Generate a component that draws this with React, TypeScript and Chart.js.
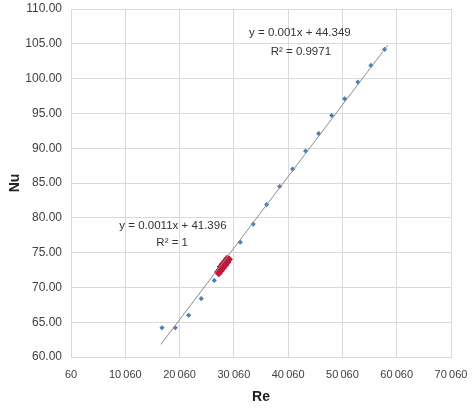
import React, { useEffect, useRef } from "react";
import { Chart, registerables } from "chart.js";

Chart.register(...registerables);

// Blue series (Re, Nu)
const blueRe = [16820, 19270, 21740, 24050, 26450, 31240, 33630, 36100, 38490, 40890, 43280, 45680, 48070, 50470, 52910, 55310, 57830];
const blueNu = [64.2, 64.2, 66.0, 68.4, 71.0, 76.5, 79.1, 81.9, 84.5, 87.0, 89.6, 92.1, 94.7, 97.1, 99.5, 101.9, 104.2];

// Red cluster series (Re, Nu)
const redRe = [27100, 27250, 27400, 27550, 27700, 27850, 28000, 28150, 28300, 28450, 28600, 28750, 28900, 29050, 29200, 27300, 27700, 28100, 28500, 28900, 27600, 28000, 28400, 28800];
const redNu = [72.2, 72.3, 72.45, 72.55, 72.7, 72.85, 73.0, 73.1, 73.25, 73.4, 73.55, 73.7, 73.8, 73.95, 74.05, 72.0, 72.4, 72.8, 73.2, 73.6, 72.95, 73.35, 73.75, 74.15];

// Trendline endpoints
const trendRe = [16600, 58400];
const trendNu = [61.8, 104.8];

// Tick labels
const xTickLabels = ["60", "10\u2009060", "20\u2009060", "30\u2009060", "40\u2009060", "50\u2009060", "60\u2009060", "70\u2009060"];
const yTickLabels = ["60.00", "65.00", "70.00", "75.00", "80.00", "85.00", "90.00", "95.00", "100.00", "105.00", "110.00"];

// Annotation texts with anchor in data units
const noteTexts = ["y = 0.001x + 44.349", "R\u00B2 = 0.9971", "y = 0.0011x + 41.396", "R\u00B2 = 1"];
const noteRe = [42230, 42400, 18840, 18700];
const noteNu = [106.55, 103.8, 78.8, 76.4];

const FONT = "'Liberation Sans', Arial, sans-serif";

const notesPlugin = {
  id: "notes",
  afterDatasetsDraw(chart: any) {
    const { ctx, scales } = chart;
    ctx.save();
    ctx.font = `11.5px ${FONT}`;
    ctx.fillStyle = "#333333";
    ctx.textAlign = "center";
    ctx.textBaseline = "middle";
    noteTexts.forEach((t, i) => {
      ctx.fillText(t, scales.x.getPixelForValue(noteRe[i]), scales.y.getPixelForValue(noteNu[i]));
    });
    ctx.restore();
  },
};

const zeroPad = (s: any) => {
  s.paddingTop = 0;
  s.paddingBottom = 0;
  s.paddingLeft = 0;
  s.paddingRight = 0;
};

export default function App() {
  const ref = useRef<HTMLCanvasElement>(null);
  useEffect(() => {
    document.body.style.margin = "0";
    const chart = new Chart(ref.current!, {
      type: "scatter",
      data: {
        datasets: [
          {
            type: "line",
            data: trendRe.map((x, i) => ({ x, y: trendNu[i] })),
            borderColor: "#8c8c8c",
            borderWidth: 1,
            pointRadius: 0,
            fill: false,
          } as any,
          {
            data: blueRe.map((x, i) => ({ x, y: blueNu[i] })),
            pointStyle: "rectRot",
            pointRadius: 2.6,
            backgroundColor: "#4a7ebb",
            borderColor: "#4a7ebb",
            borderWidth: 0,
          },
          {
            data: redRe.map((x, i) => ({ x, y: redNu[i] })),
            pointStyle: "rectRot",
            pointRadius: 3.8,
            backgroundColor: "#c01a3a",
            borderColor: "#c01a3a",
            borderWidth: 0,
          },
        ],
      },
      options: {
        animation: false,
        responsive: false,
        maintainAspectRatio: false,
        layout: { padding: { top: 9, right: 23, bottom: 0, left: 0 } },
        plugins: { legend: { display: false }, tooltip: { enabled: false } },
        scales: {
          x: {
            type: "linear",
            min: 60,
            max: 70060,
            afterFit: (s: any) => { s.height = 58; zeroPad(s); },
            grid: { color: "#d9d9d9", drawTicks: false },
            border: { color: "#d9d9d9" },
            ticks: {
              stepSize: 10000,
              padding: 11,
              color: "#404040",
              font: { family: FONT, size: 11 },
              callback: (v: any) => xTickLabels[Math.round((Number(v) - 60) / 10000)],
            },
            title: {
              display: true,
              text: "Re",
              color: "#222",
              font: { family: FONT, size: 14, weight: "bold" },
              padding: { top: 0, bottom: 9 },
            },
          },
          y: {
            min: 60,
            max: 110,
            afterFit: (s: any) => { s.width = 71; zeroPad(s); },
            grid: { color: "#d9d9d9", drawTicks: false },
            border: { color: "#d9d9d9" },
            ticks: {
              stepSize: 5,
              padding: 9,
              color: "#404040",
              font: { family: FONT, size: 12 },
              callback: (v: any) => yTickLabels[Math.round((Number(v) - 60) / 5)],
            },
            title: {
              display: true,
              text: "Nu",
              color: "#222",
              font: { family: FONT, size: 14, weight: "bold" },
              padding: { top: 7, bottom: 0 },
            },
          },
        },
      },
      plugins: [notesPlugin],
    });
    return () => chart.destroy();
  }, []);
  return (
    <div style={{ width: 474, height: 415 }}>
      <canvas ref={ref} width={474} height={415} style={{ width: 474, height: 415, display: "block" }} />
    </div>
  );
}
